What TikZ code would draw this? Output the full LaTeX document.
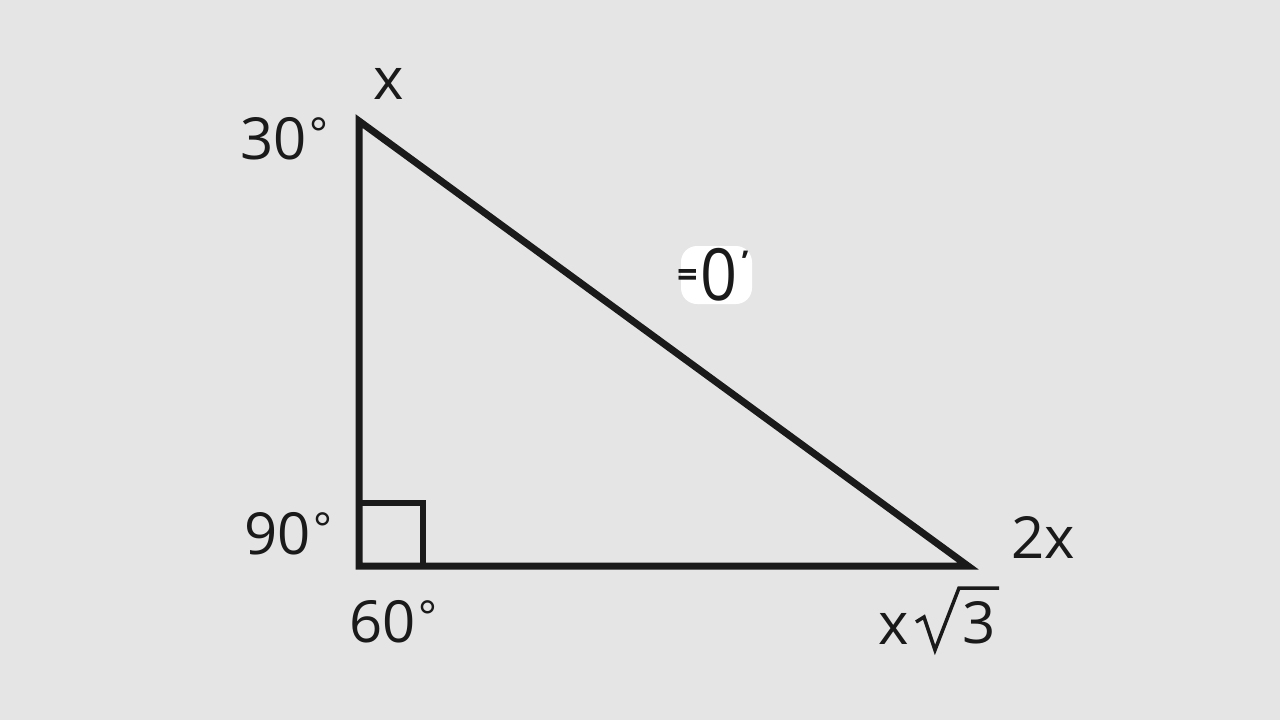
\documentclass[tikz,border=0pt]{standalone}
\usepackage{fontspec}
\setmainfont{Open Sans}
\definecolor{bg}{HTML}{E5E5E5}
\definecolor{ink}{HTML}{1A1A1A}
\newcommand{\dg}{\kern3pt\raisebox{10pt}{\fontsize{44}{44}\selectfont°}}
\tikzset{
  lbl/.style={inner sep=0pt, text=ink, font=\fontsize{58}{60}\selectfont},
  edge/.style={draw=ink, line width=7pt, line join=miter},
}
\begin{document}
\begin{tikzpicture}[x=1pt,y=-1pt]
\fill[bg] (0,0) rectangle (1280,720);
\useasboundingbox (0,0) rectangle (1280,720);
\coordinate (A) at (359,121);
\coordinate (B) at (359,566);
\coordinate (C) at (968,566);
\coordinate (S1) at (359,503);
\coordinate (S2) at (423,503);
\coordinate (S3) at (423,566);
\draw[edge] (A) -- (B) -- (C) -- cycle;
\draw[edge, line width=6pt] (S1) -- (S2) -- (S3);
\node[lbl] (lx) at (389,84) {x};
\node[lbl, anchor=west] (l30) at (240,139) {30\dg};
\node[lbl, anchor=west] (l90) at (244,534) {90\dg};
\node[lbl, anchor=west] (l60) at (349,622) {60\dg};
\node[lbl] (l2x) at (1043,537) {2x};
% x sqrt 3
\node[lbl] (lrx) at (894,629) {x};
\node[lbl] (lr3) at (979,623) {3};
\draw[ink, line width=3.5pt, line join=miter, line cap=butt]
  (916,622) -- (924,617) -- (935,650) -- (959,588) -- (999,588);
% white smudge with fragment text
\fill[white, rounded corners=16pt] (681,246) rectangle (752,304);
\node[lbl, xscale=0.9, font=\fontsize{72}{74}\selectfont] (art) at (719,275) {0};
\node[lbl, font=\fontsize{36}{36}\selectfont\bfseries] (artl) at (688,278) {=};
\node[lbl, font=\fontsize{30}{30}\selectfont\bfseries] (artr) at (745,262) {'};
\end{tikzpicture}
\end{document}
